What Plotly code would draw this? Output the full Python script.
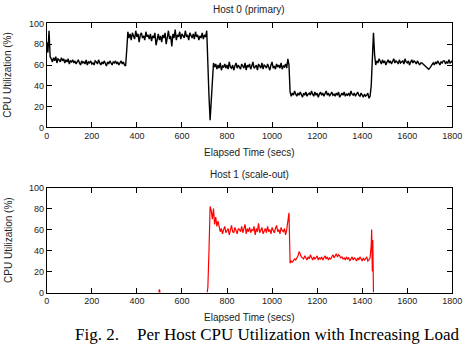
import plotly.graph_objects as go

W, H = 474, 349

# ---------------- Host 0 (primary): samples every 5 s from 0 to 1800 ----------------
host0_start = [82, 72, 93, 68]                      # t = 0..15
host0_low1 = [66, 63, 67, 64, 68, 62, 66, 65, 63, 67, 64, 66, 62, 65, 63, 66, 61, 64, 63, 65,
              62, 64, 61, 63, 65, 62, 60, 64, 62, 63, 61, 65, 60, 63, 62, 64, 61, 62, 60, 64,
              63, 61, 65, 62, 60, 63, 61, 64, 62, 59, 63, 61, 64, 62, 60, 63, 62, 64, 61, 63,
              60, 62, 64, 61, 63, 60, 59]            # t = 20..350
host0_high = [75,
              92, 86, 90, 84, 91, 88, 85, 93, 87, 90, 82, 89, 91, 86, 88, 84, 92, 87, 89, 85,
              90, 83, 88, 86, 91, 79, 87, 90, 84, 88, 82, 89, 86, 91, 80, 87, 93, 85, 88, 78,
              90, 86, 94, 84, 89, 87, 92, 85, 90, 88, 86, 93, 87, 89, 84, 91, 88, 86, 90, 85,
              92, 87, 89, 84, 88, 86, 91, 85, 89, 87, 93]   # t = 355..710
host0_dip = [55, 30, 7, 25, 50, 62]                 # t = 715..740
host0_mid = [58, 61, 56, 60, 57, 62, 55, 59, 58, 61, 57, 60, 56, 63, 58, 57, 60, 55, 59, 62,
             57, 60, 58, 56, 61, 59, 57, 62, 55, 60, 58, 61, 56, 59, 63, 57, 58, 60, 55, 61,
             58, 57, 62, 56, 60, 59, 57, 61, 58, 55, 60, 63, 57, 59, 56, 61, 58, 60, 57, 62,
             56, 59, 58, 61, 57, 66, 60]             # t = 745..1075
host0_low2 = [34, 30, 33, 31, 35, 32, 30, 33, 31, 34, 32, 29, 33, 31, 34, 30, 32, 33, 31, 35,
              32, 30, 34, 31, 33, 29, 32, 34, 31, 33, 30, 32, 35, 31, 33, 30, 32, 34, 31, 32,
              30, 33, 31, 34, 29, 32, 33, 31, 34, 30, 32, 31, 33, 30, 35, 32, 31, 33, 30, 32,
              34, 31, 30, 33, 31, 29, 32, 30, 31, 33, 28, 30]   # t = 1080..1435
host0_spike = [40, 75, 91, 70, 60]                  # t = 1440..1460
host0_end = [64, 62, 66, 63, 61, 65, 62, 64, 60, 63, 65, 62, 64, 61, 63, 66, 62, 64, 63, 61,
             65, 62, 63, 64, 61, 66, 63, 62, 64, 60, 63, 65, 62, 64, 63, 61, 64, 62, 60, 62,
             62, 61, 60, 59, 58, 57, 56, 57, 59, 60, 62, 60, 63, 61, 64, 62, 60, 63, 62, 64,
             64, 61, 63, 62, 65, 62, 63, 64]         # t = 1465..1800
host0_values = (host0_start + host0_low1 + host0_high + host0_dip + host0_mid
                + host0_low2 + host0_spike + host0_end)
host0_times = list(range(0, 1801, 5))

# ---------------- Host 1 (scale-out) ----------------
host1_blip_t = [497, 500, 503, 600]
host1_blip_v = [0, 3, 0, None]          # idle (at 0) apart from a tiny blip near 500 s
host1_ramp_t = [712] + list(range(715, 761, 5))
host1_ramp_v = [0, 5, 40, 82, 78, 70, 80, 65, 72, 63, 68]
host1_mid_t = list(range(765, 1076, 5))
host1_mid_v = [62, 58, 61, 56, 60, 63, 57, 59, 61, 55, 60, 64, 58, 57, 62, 59, 56, 61, 60, 58,
               63, 57, 60, 65, 56, 61, 58, 62, 57, 60, 59, 63, 55, 61, 58, 66, 57, 60, 62, 56,
               59, 61, 57, 63, 58, 60, 56, 62, 59, 57, 61, 64, 58, 60, 56, 62, 59, 58, 61, 55,
               60, 66, 76]
host1_low_t = list(range(1080, 1436, 5))
host1_low_v = [28, 30, 29, 31, 32, 31, 33, 35, 39, 36, 34, 33, 32, 35, 33, 31, 34, 32, 36, 33,
               31, 34, 32, 33, 35, 31, 33, 32, 34, 31, 33, 35, 32, 34, 31, 33, 32, 34, 36, 33,
               35, 37, 34, 36, 35, 33, 34, 32, 33, 31, 34, 32, 33, 30, 32, 34, 31, 33, 32, 30,
               33, 31, 34, 32, 30, 33, 31, 32, 34, 30, 31, 33]
host1_end_t = [1440, 1442, 1445, 1447, 1450]
host1_end_v = [45, 60, 20, 50, 0]
host1_times = host1_blip_t + host1_ramp_t + host1_mid_t + host1_low_t + host1_end_t
host1_values = host1_blip_v + host1_ramp_v + host1_mid_v + host1_low_v + host1_end_v

x_ticks = [0, 200, 400, 600, 800, 1000, 1200, 1400, 1600, 1800]
y_ticks = [0, 20, 40, 60, 80, 100]

TXT = "#222222"
SANS = "Liberation Sans, Arial, sans-serif"
SERIF = "Liberation Serif, Times New Roman, serif"


def px(x):
    return x / W


def py(y):
    return 1 - y / H


fig = go.Figure()
fig.add_trace(go.Scatter(x=host0_times, y=host0_values, mode="lines",
                         line=dict(color="black", width=1.4), xaxis="x", yaxis="y",
                         showlegend=False))
fig.add_trace(go.Scatter(x=host1_times, y=host1_values, mode="lines",
                         line=dict(color="#ff0000", width=1.2), xaxis="x2", yaxis="y2",
                         connectgaps=False, showlegend=False))

axis_common = dict(showline=True, linecolor="black", linewidth=1, mirror="ticks",
                   ticks="inside", ticklen=5, tickcolor="black", showgrid=False,
                   zeroline=False, layer="above traces",
                   tickfont=dict(family=SANS, size=9, color=TXT))

fig.update_layout(
    width=W, height=H, margin=dict(l=0, r=0, t=0, b=0),
    paper_bgcolor="white", plot_bgcolor="white",
    xaxis=dict(domain=[px(45), px(462)], anchor="y", range=[0, 1800],
               tickvals=x_ticks, **axis_common),
    yaxis=dict(domain=[py(126), py(19)], anchor="x", range=[0, 100],
               tickvals=y_ticks, **axis_common),
    xaxis2=dict(domain=[px(45), px(462)], anchor="y2", range=[0, 1800],
                tickvals=x_ticks, **axis_common),
    yaxis2=dict(domain=[py(296), py(188)], anchor="x2", range=[0, 100],
                tickvals=y_ticks, **axis_common),
)

ann = []
for text, x, y, ang in [("Host 0 (primary)", 253, 5, 0),
                        ("Elapsed Time (secs)", 253, 152, 0),
                        ("CPU Utilization (%)", 5, 72, -90),
                        ("Host 1 (scale-out)", 253, 174, 0),
                        ("Elapsed Time (secs)", 253, 322, 0),
                        ("CPU Utilization (%)", 5, 242, -90)]:
    ann.append(dict(text=text, x=px(x), y=py(y), xref="paper", yref="paper",
                    xanchor="center", yanchor="middle", showarrow=False, textangle=ang,
                    font=dict(family=SANS, size=10, color=TXT)))
for text, x in [("Fig. 2.", 72), ("Per Host CPU Utilization with Increasing Load", 136)]:
    ann.append(dict(text=text, x=px(x), y=py(327), xref="paper", yref="paper",
                    xanchor="left", yanchor="top", showarrow=False,
                    font=dict(family=SERIF, size=17, color="black")))
fig.update_layout(annotations=ann)

fig.write_html("out.html")
